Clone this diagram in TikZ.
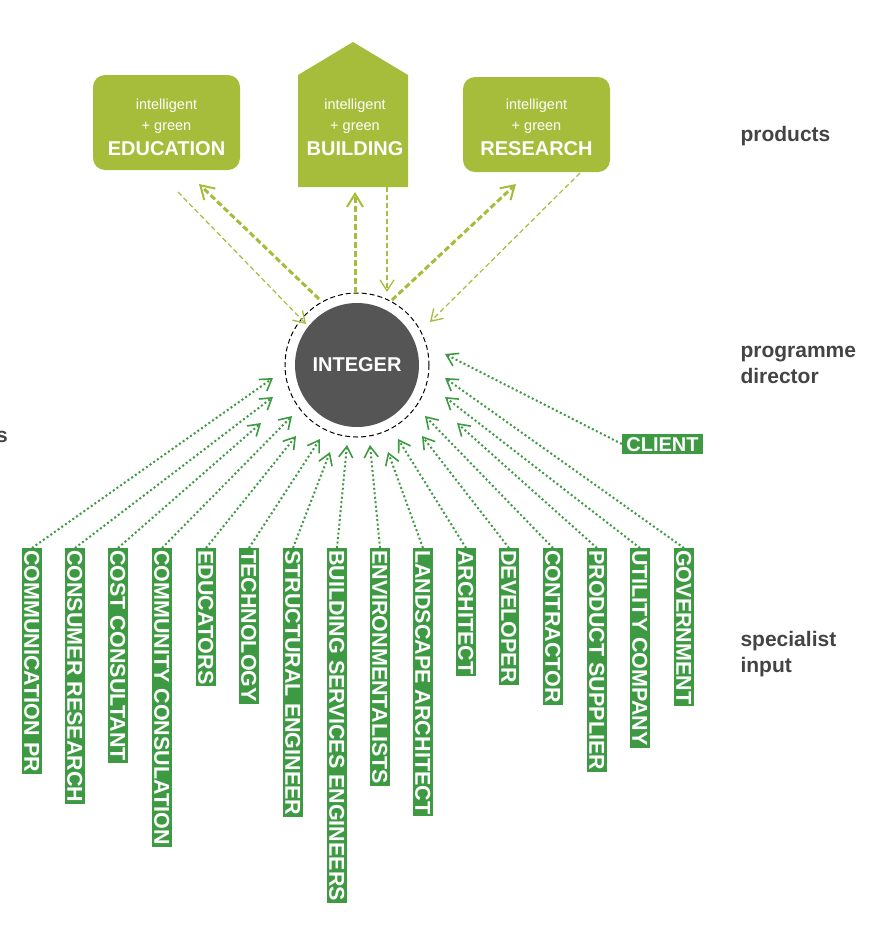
\documentclass[tikz,border=0pt]{standalone}
\usepackage{fontspec}
\setmainfont{Liberation Sans}
\usetikzlibrary{arrows.meta}
\definecolor{lg}{HTML}{A5BD3A}
\definecolor{dg}{HTML}{3D9A42}
\definecolor{tg}{HTML}{444444}
\definecolor{cg}{HTML}{555555}
\begin{document}
\begin{tikzpicture}[x=1pt,y=-1pt,
  spec/.style={fill=dg,text=white,font=\fontsize{21.5}{20}\selectfont\bfseries,rotate=-90,anchor=west,inner xsep=2pt,inner ysep=2pt,text height=15.5pt,text depth=0pt},
  feed/.style={dg,line width=2pt,dash pattern=on 2pt off 2.5pt,-{Straight Barb[length=11pt,width=14pt,line width=1.6pt]}},
  thin/.style={lg,line width=1.2pt,dash pattern=on 5pt off 3pt,-{Straight Barb[length=11pt,width=14pt,line width=1.3pt]}},
  thick/.style={lg,line width=3pt,dash pattern=on 6pt off 3pt,-{Straight Barb[length=13pt,width=16pt,line width=2pt]}},
  prod/.style={fill=lg,rounded corners=12pt,minimum width=147pt,minimum height=95pt,text=white,align=center,inner sep=0pt,font=\fontsize{14.5}{21}\selectfont},
  side/.style={text=tg,font=\fontsize{21}{26}\selectfont\bfseries,anchor=west,align=left}]
\useasboundingbox (0,0) rectangle (881,943);
% products
\fill[lg,rounded corners=12pt] (93,75) rectangle (240,170);
\fill[lg,rounded corners=12pt] (463,77) rectangle (610,172);
\fill[lg] (298,187) -- (298,75) -- (353,42) -- (408,75) -- (408,187) -- cycle;
\node[text=white,align=center,inner sep=0pt,font=\fontsize{14.5}{21}\selectfont] (edu) at (166.5,127) {intelligent\\+ green\\[4pt]{\fontsize{20}{20}\selectfont\bfseries EDUCATION}};
\node[text=white,align=center,inner sep=0pt,font=\fontsize{14.5}{21}\selectfont] (res) at (536.5,127) {intelligent\\+ green\\[4pt]{\fontsize{20}{20}\selectfont\bfseries RESEARCH}};
\node[text=white,align=center,inner sep=0pt,font=\fontsize{14.5}{21}\selectfont] (bld) at (355,127) {intelligent\\+ green\\[4pt]{\fontsize{20}{20}\selectfont\bfseries BUILDING}};
% circle
\node[circle,fill=cg,minimum size=124pt,inner sep=0pt,text=white,font=\fontsize{20}{20}\selectfont\bfseries] (int) at (357,365) {INTEGER};
\draw[black,line width=1pt,dash pattern=on 5pt off 3pt] (int.center) circle (72);
% top arrows
\coordinate (e1) at (319,299); \coordinate (e2) at (199,184);
\draw[thick] (e1) -- (e2);
\coordinate (e3) at (178,192); \coordinate (e4) at (306,324);
\draw[thin] (e3) -- (e4);
\coordinate (b1) at (355,293); \coordinate (b2) at (355,192);
\draw[thick] (b1) -- (b2);
\coordinate (b3) at (387,187); \coordinate (b4) at (387,292);
\draw[thin] (b3) -- (b4);
\coordinate (r1) at (392,300); \coordinate (r2) at (516,184);
\draw[thick] (r1) -- (r2);
\coordinate (r3) at (580,173); \coordinate (r4) at (430,322);
\draw[thin] (r3) -- (r4);
% specialists
\foreach \i/\x/\t/\tx/\ty in {
 1/32/COMMUNICATION PR/273/378,
 2/75/CONSUMER RESEARCH/273/397,
 3/118/COST CONSULTANT/261/423,
 4/162/COMMUNITY CONSULATION/292/416,
 5/206/EDUCATORS/296/436,
 6/249/TECHNOLOGY/320/439,
 7/293/STRUCTURAL ENGINEER/330/452,
 8/337/BUILDING SERVICES ENGINEERS/347/445,
 9/380/ENVIRONMENTALISTS/370/445,
 10/423/LANDSCAPE ARCHITECT/388/452,
 11/466/ARCHITECT/398/439,
 12/509/DEVELOPER/422/436,
 13/553/CONTRACTOR/425/416,
 14/597/PRODUCT SUPPLIER/457/423,
 15/640/UTILITY COMPANY/445/397,
 16/684/GOVERNMENT/445/378}{
  \node[spec] (s\i) at (\x,548) {\t};
  \coordinate (t\i) at (\tx,\ty);
  \draw[feed] (s\i.west) -- (t\i);
}
\node[fill=dg,text=white,font=\fontsize{20}{20}\selectfont\bfseries,inner xsep=3pt,inner ysep=2.5pt,text height=15pt,text depth=0pt,minimum width=81pt] (cl) at (662.5,444) {CLIENT};
\coordinate (tc) at (445,354);
\draw[feed] (cl.west) -- (tc);
% side labels
\node[side] (p) at (737,136) {products};
\node[side] (pd) at (737,365) {programme\\director};
\node[side] (si) at (737,654) {specialist\\input};
\node[text=tg,font=\fontsize{21}{24}\selectfont\bfseries,anchor=west,inner sep=0pt] (s) at (-4,437) {s};
\end{tikzpicture}
\end{document}
